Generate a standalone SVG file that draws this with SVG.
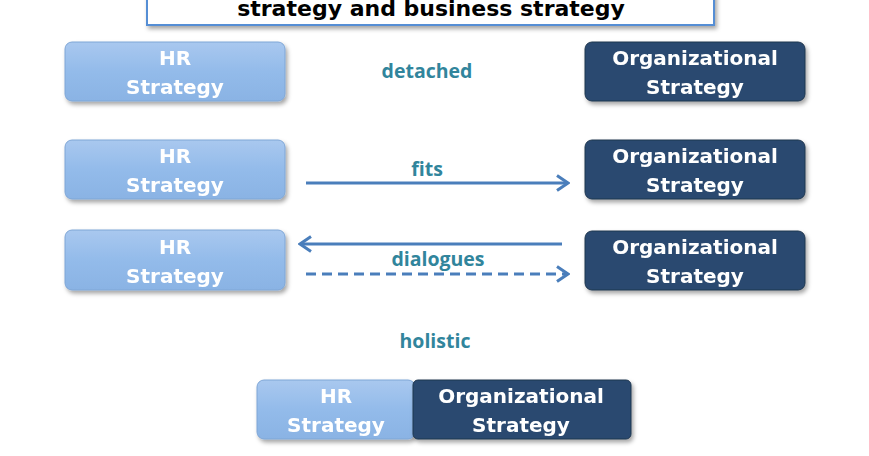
<svg xmlns="http://www.w3.org/2000/svg" width="869" height="456" viewBox="0 0 869 456">
<style>
.hr{fill:url(#lg);stroke:#7fa6d6;stroke-width:1}
.org{fill:#2b4a6f;stroke:#1f3650;stroke-width:1}
.bt{font-family:"DejaVu Sans","Liberation Sans",sans-serif;font-weight:bold;font-size:20px;fill:#fff;text-anchor:middle}
.lb{font-family:"Open Sans","Liberation Sans",sans-serif;font-weight:bold;font-size:19.5px;fill:#31859c;text-anchor:middle}
.ar{stroke:#4a7ebb;stroke-width:3;fill:none}
</style>
<defs>
<linearGradient id="lg" x1="0" y1="0" x2="0" y2="1"><stop offset="0" stop-color="#a9c8ef"/><stop offset="0.5" stop-color="#93bbea"/><stop offset="1" stop-color="#8ab3e4"/></linearGradient>
<marker id="ah" viewBox="0 0 14 18" refX="12" refY="9" markerWidth="14" markerHeight="18" markerUnits="userSpaceOnUse" orient="auto"><path d="M1,1.5 L12,9 L1,16.5" fill="none" stroke="#4a7ebb" stroke-width="3"/></marker>
<filter id="sh" x="-10%" y="-10%" width="130%" height="140%"><feDropShadow dx="2" dy="3" stdDeviation="2" flood-color="#000" flood-opacity="0.35"/></filter>
</defs>
<rect width="869" height="456" fill="#fff"/>
<g id="title"><rect x="147" y="-10" width="567" height="35" fill="#fff" stroke="#558ed5" stroke-width="2" filter="url(#sh)"/>
<text x="431" y="16" font-family="'DejaVu Sans','Liberation Sans',sans-serif" font-weight="bold" font-size="22" text-anchor="middle" fill="#000">strategy and business strategy</text></g>
<g id="hr1" filter="url(#sh)"><rect class="hr" x="65" y="42" width="220" height="59" rx="7"/><text class="bt" x="175" y="65">HR</text><text class="bt" x="175" y="94">Strategy</text></g>
<g id="org1" filter="url(#sh)"><rect class="org" x="585" y="42" width="220" height="59" rx="7"/><text class="bt" x="695" y="65">Organizational</text><text class="bt" x="695" y="94">Strategy</text></g>
<g id="hr2" filter="url(#sh)"><rect class="hr" x="65" y="140" width="220" height="59" rx="7"/><text class="bt" x="175" y="163">HR</text><text class="bt" x="175" y="192">Strategy</text></g>
<g id="org2" filter="url(#sh)"><rect class="org" x="585" y="140" width="220" height="59" rx="7"/><text class="bt" x="695" y="163">Organizational</text><text class="bt" x="695" y="192">Strategy</text></g>
<g id="hr3" filter="url(#sh)"><rect class="hr" x="65" y="230" width="220" height="60" rx="7"/><text class="bt" x="175" y="254">HR</text><text class="bt" x="175" y="283">Strategy</text></g>
<g id="org3" filter="url(#sh)"><rect class="org" x="585" y="231" width="220" height="59" rx="7"/><text class="bt" x="695" y="254">Organizational</text><text class="bt" x="695" y="283">Strategy</text></g>
<g id="hr4" filter="url(#sh)"><rect class="hr" x="257" y="380" width="158" height="59" rx="7"/><text class="bt" x="336" y="403">HR</text><text class="bt" x="336" y="432">Strategy</text></g>
<g id="org4" filter="url(#sh)"><rect class="org" x="413" y="380" width="218" height="59" rx="5"/><text class="bt" x="521" y="403">Organizational</text><text class="bt" x="521" y="432">Strategy</text></g>
<g id="labels">
<text class="lb" x="427" y="78">detached</text>
<text class="lb" x="427" y="176">fits</text>
<text class="lb" x="438" y="266">dialogues</text>
<text class="lb" x="435" y="348">holistic</text>
</g>
<g id="connectors">
<line class="ar" x1="306" y1="183" x2="568" y2="183" marker-end="url(#ah)"/>
<line class="ar" x1="562" y1="244" x2="300" y2="244" marker-end="url(#ah)"/>
<line class="ar" x1="306" y1="274" x2="568" y2="274" stroke-dasharray="10,6" marker-end="url(#ah)"/>
</g>
</svg>
